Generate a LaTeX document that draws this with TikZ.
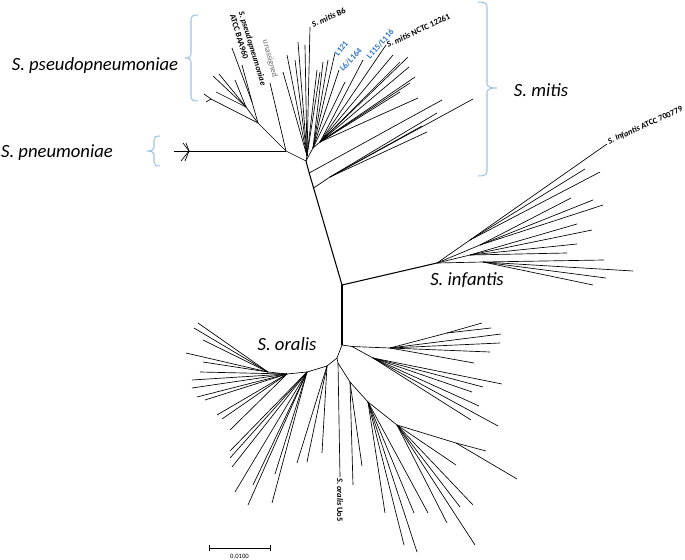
\documentclass[tikz,border=0pt]{standalone}
\usepackage{fontspec}
\setmainfont{Carlito}
\definecolor{brk}{RGB}{157,195,230}
\definecolor{lblue}{RGB}{46,117,200}
\begin{document}
\begin{tikzpicture}[x=0.75pt,y=-0.75pt,
  leaf/.style={line width=0.5pt},
  bb/.style={line width=0.8pt},
  small/.style={font=\fontsize{6.3}{7}\selectfont\bfseries, inner sep=0pt, anchor=west},
  big/.style={font=\fontsize{14}{16}\selectfont\itshape, inner sep=0pt, anchor=base},
  brace/.style={draw=brk, line width=0.8pt}]
\useasboundingbox (0,0) rectangle (685,560);

% ---------- backbone ----------
\coordinate (pn) at (189,151);
\coordinate (A) at (286,151);
\coordinate (M) at (306,161);
\coordinate (T1) at (309.2,173);
\coordinate (T2) at (313.6,188);
\coordinate (B) at (342,285);
\coordinate (I0) at (437,263);
\coordinate (O0) at (342,345);
\coordinate (O1) at (337,358);
\draw[leaf] (pn) -- (A);
\draw[leaf] (A) -- (M);
\draw[bb] (M) -- (T1) -- (T2) -- (B);
\draw[bb] (B) -- (I0);
\draw[line width=1.2pt] (B) -- (O0);
\draw[leaf] (O0) -- (O1);

% ---------- S. pneumoniae ----------
\foreach \x/\y [count=\i] in {174/151,183/143,181/161,185/161,186/143}
  {\coordinate (pa\i) at (\x,\y); \draw[leaf] (pn) -- (pa\i);}

% ---------- S. pseudopneumoniae ----------
\coordinate (P1) at (258,123);
\coordinate (P2) at (246,107);
\coordinate (P3) at (252,102);
\coordinate (Py) at (211,99);
\coordinate (un) at (270,83);
\draw[leaf] (A) -- (P1);
\draw[leaf] (A) -- (un);
\draw[leaf] (P1) -- (P2);
\draw[leaf] (P1) -- (P3);
\draw[leaf] (P1) -- (Py);
\foreach \x/\y [count=\i] in {204/94,206/102}
  {\coordinate (py\i) at (\x,\y); \draw[leaf] (Py) -- (py\i);}
\foreach \x/\y [count=\i] in {213/76,219/74,216/92,235/80}
  {\coordinate (pb\i) at (\x,\y); \draw[leaf] (P2) -- (pb\i);}
\foreach \x/\y [count=\i] in {232/48,242/65}
  {\coordinate (pc\i) at (\x,\y); \draw[leaf] (P3) -- (pc\i);}

% ---------- S. mitis ----------
\coordinate (m1) at (307,156);
\coordinate (m2) at (313,148);
\coordinate (m3) at (320,142);
\draw[leaf] (M) -- (m1);
\draw[leaf] (M) -- (m2);
\draw[leaf] (m2) -- (m3);
\foreach \x/\y [count=\i] in {298/42,305/45,287/55,295/60,283/72,310/27,317/70,320/72}
  {\coordinate (ma\i) at (\x,\y); \draw[leaf] (m1) -- (ma\i);}
\foreach \x/\y [count=\i] in {323/62,328/60,335/53,339/70,345/82}
  {\coordinate (mb\i) at (\x,\y); \draw[leaf] (m2) -- (mb\i);}
\foreach \x/\y [count=\i] in {363/60,386/45,393/55,400/62,408/57,409/67,415/77,410/83,418/98,400/92}
  {\coordinate (mc\i) at (\x,\y); \draw[leaf] (m3) -- (mc\i);}
\coordinate (t1l) at (442,100);
\draw[leaf] (T1) -- (t1l);
\coordinate (F2) at (330,177);
\draw[leaf] (T2) -- (F2);
\foreach \x/\y [count=\i] in {473/99,437/113,427/132,422/126}
  {\coordinate (fa\i) at (\x,\y); \draw[leaf] (F2) -- (fa\i);}

% ---------- S. infantis ----------
\coordinate (i1) at (470,240);
\coordinate (i2) at (480,245);
\coordinate (i3) at (470,255);
\coordinate (i4) at (483,262);
\foreach \n in {i1,i2,i3,i4} {\draw[leaf] (I0) -- (\n);}
\foreach \x/\y [count=\i] in {607/144,585/169,600/172}
  {\coordinate (ia\i) at (\x,\y); \draw[leaf] (i1) -- (ia\i);}
\foreach \x/\y [count=\i] in {571/198,593/200,603/205}
  {\coordinate (ib\i) at (\x,\y); \draw[leaf] (i2) -- (ib\i);}
\foreach \x/\y [count=\i] in {577/224,592/230,577/244,567/253}
  {\coordinate (ic\i) at (\x,\y); \draw[leaf] (i3) -- (ic\i);}
\foreach \x/\y [count=\i] in {604/260,633/271,606/278,593/285}
  {\coordinate (id\i) at (\x,\y); \draw[leaf] (i4) -- (id\i);}

% ---------- S. oralis : right fan ----------
\coordinate (r0) at (352,346.5);
\coordinate (r1) at (390,348);
\coordinate (r1b) at (447,333);
\coordinate (r2) at (373,358);
\draw[leaf] (O0) -- (r0);
\draw[leaf] (r0) -- (r1);
\draw[leaf] (r1) -- (r1b);
\draw[leaf] (r0) -- (r2);
\foreach \x/\y [count=\i] in {482/323,491/328}
  {\coordinate (ra\i) at (\x,\y); \draw[leaf] (r1b) -- (ra\i);}
\foreach \x/\y [count=\i] in {501/334,500/343,490/352,474/363}
  {\coordinate (rb\i) at (\x,\y); \draw[leaf] (r1) -- (rb\i);}
\foreach \x/\y [count=\i] in {502/384,483/387,472/392,479/406,471/420,498/426}
  {\coordinate (rc\i) at (\x,\y); \draw[leaf] (r2) -- (rc\i);}

% ---------- S. oralis : lower fan ----------
\coordinate (d0) at (338,363);
\coordinate (d1) at (350,382);
\coordinate (d2) at (368,402);
\coordinate (d3) at (397,425);
\coordinate (d4) at (456,443);
\coordinate (uo) at (340,477);
\draw[leaf] (O1) -- (d0);
\draw[leaf] (d0) -- (uo);
\draw[leaf] (d0) -- (d1) -- (d2) -- (d3) -- (d4);
\foreach \x/\y [count=\i] in {353/485,362/466}
  {\coordinate (da\i) at (\x,\y); \draw[leaf] (d1) -- (da\i);}
\foreach \x/\y [count=\i] in {385/513,404/545,417/552,414/513,428/513}
  {\coordinate (db\i) at (\x,\y); \draw[leaf] (d2) -- (db\i);}
\foreach \x/\y [count=\i] in {447/523,460/507,473/505,475/545,456/465}
  {\coordinate (dc\i) at (\x,\y); \draw[leaf] (d3) -- (dc\i);}
\foreach \x/\y [count=\i] in {486/451,517/479}
  {\coordinate (dd\i) at (\x,\y); \draw[leaf] (d4) -- (dd\i);}

% ---------- S. oralis : left fan ----------
\coordinate (a1) at (327,366);
\coordinate (a2) at (307,372);
\coordinate (a3) at (287,374);
\coordinate (a4) at (268,372);
\draw[leaf] (O1) -- (a1) -- (a2) -- (a3) -- (a4);
\foreach \x/\y [count=\i] in {198/323,194/328,203/340,186/353,203/362}
  {\coordinate (la\i) at (\x,\y); \draw[leaf] (a4) -- (la\i);}
\foreach \x/\y [count=\i] in {200/372,192/380,192/388,197/397,205/400,217/415,222/419,230/430}
  {\coordinate (lb\i) at (\x,\y); \draw[leaf] (a3) -- (lb\i);}
\foreach \x/\y [count=\i] in {230/451,230/458,232/467,235/492,248/505,253/485,272/503,275/474}
  {\coordinate (lc\i) at (\x,\y); \draw[leaf] (a2) -- (lc\i);}
\foreach \x/\y [count=\i] in {297/463,307/462,322/453}
  {\coordinate (ld\i) at (\x,\y); \draw[leaf] (a1) -- (ld\i);}

% ---------- leaf labels ----------
\node[small, rotate=-73, anchor=north west, align=left] (lps) at (244.5,10.5)
  {\textit{S. pseudopneumoniae}\\ATCC BAA960};
\node[small, rotate=-75, font=\fontsize{6.3}{7}\selectfont, text=black!60] (lun) at (265,40) {unassigned};
\node[small, rotate=24] (lb6) at (312,25) {\textit{S. mitis} B6};
\node[small, rotate=51, text=lblue] (l121) at (336,55) {L121};
\node[small, rotate=46, text=lblue] (l6) at (341,70) {L6/L164};
\node[small, rotate=48.5, text=lblue] (l115) at (368,58) {L115/L116};
\node[small, rotate=25] (lnctc) at (387,45) {\textit{S. mitis} NCTC 12261};
\node[small, rotate=24] (linf) at (608,142) {\textit{S. Infantis} ATCC 700779};
\node[small, rotate=-90] (luo) at (340,478) {\textit{S. oralis} Uo5};

% ---------- clade labels ----------
\node[big] (cps) at (95,70) {S. pseudopneumoniae};
\node[big] (cpn) at (57,157) {S. pneumoniae};
\node[big] (cmi) at (541,96) {S. mitis};
\node[big] (cin) at (467,285) {S. infantis};
\node[big] (cor) at (287,350) {S. oralis};

% ---------- braces ----------
\draw[brace] (198,15) .. controls (193,15) and (191,16) .. (191,20) -- (191,53)
  .. controls (191,57) and (189,58) .. (185,58) .. controls (189,58) and (191,59) .. (191,63)
  -- (191,96) .. controls (191,100) and (193,101) .. (198,101);
\draw[brace] (160,136) .. controls (156,136) and (154,137) .. (154,140) -- (154,147)
  .. controls (154,150) and (151,151) .. (147,151) .. controls (151,151) and (154,152) .. (154,155)
  -- (154,162) .. controls (154,165) and (156,166) .. (160,166);
\draw[brace] (478,2) .. controls (484,2) and (487,3) .. (487,7) -- (487,83)
  .. controls (487,87) and (490,88) .. (497,88) .. controls (490,88) and (487,89) .. (487,93)
  -- (487,171) .. controls (487,175) and (484,176) .. (478,176);

% ---------- scale bar ----------
\coordinate (sb1) at (209,548);
\coordinate (sb2) at (270,548);
\draw[line width=0.7pt] (sb1) -- (sb2);
\draw[line width=0.7pt] ([yshift=2.5pt]sb1) -- ([yshift=-2.5pt]sb1);
\draw[line width=0.7pt] ([yshift=2.5pt]sb2) -- ([yshift=-2.5pt]sb2);
\node[font=\fontsize{5}{6}\selectfont, inner sep=0pt] (sbt) at (239.5,556) {0.0100};
\end{tikzpicture}
\end{document}
